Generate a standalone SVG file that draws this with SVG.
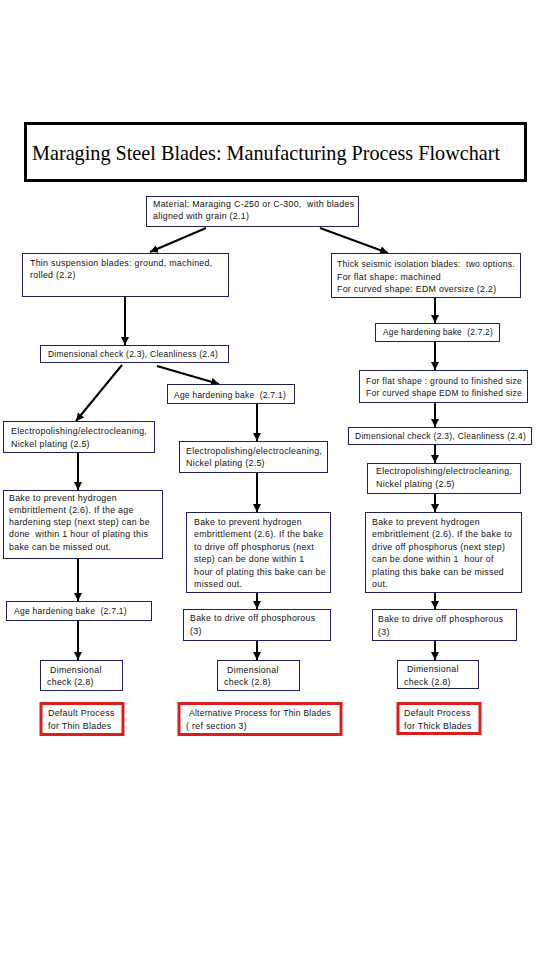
<svg xmlns="http://www.w3.org/2000/svg" width="540" height="960" viewBox="0 0 540 960">
<style>
.b{fill:#fff;stroke:#1f1f5e;stroke-width:1}
.r{fill:#fff;stroke:#d81e1e;stroke-width:3}
.t{font-family:"Liberation Sans",Arial,sans-serif;font-size:8.8px;letter-spacing:0.3px;fill:#111;white-space:pre}
.c line{stroke:#000;stroke-width:2;marker-end:url(#ah)}
</style>
<defs>
<marker id="ah" markerUnits="userSpaceOnUse" markerWidth="9" markerHeight="8" refX="8" refY="4" orient="auto">
<path d="M0,0 L8,4 L0,8 z" fill="#000"/>
</marker>
</defs>
<rect width="540" height="960" fill="#fff"/>
<g id="title">
<rect x="25.5" y="123.5" width="500" height="57" fill="#fff" stroke="#000" stroke-width="3"/>
<text x="32" y="160" font-family="Liberation Serif,Times New Roman,serif" font-size="20.2" fill="#000">Maraging Steel Blades: Manufacturing Process Flowchart</text>
</g>
<g class="c" id="connectors">
<line x1="206" y1="228" x2="150" y2="252"/>
<line x1="320" y1="228" x2="388" y2="253"/>
<line x1="125" y1="297" x2="125" y2="345"/>
<line x1="435" y1="298" x2="435" y2="323"/>
<line x1="435" y1="341" x2="435" y2="370"/>
<line x1="435" y1="403" x2="435" y2="427"/>
<line x1="435" y1="444" x2="435" y2="463"/>
<line x1="435" y1="494" x2="435" y2="512"/>
<line x1="435" y1="593" x2="435" y2="609"/>
<line x1="435" y1="641" x2="435" y2="660"/>
<line x1="122" y1="365" x2="76" y2="421"/>
<line x1="157" y1="366" x2="219" y2="384"/>
<line x1="257" y1="404" x2="257" y2="441"/>
<line x1="78" y1="452" x2="78" y2="490"/>
<line x1="257" y1="472" x2="257" y2="512"/>
<line x1="78" y1="558" x2="78" y2="601"/>
<line x1="257" y1="593" x2="257" y2="609"/>
<line x1="78" y1="620" x2="78" y2="660"/>
<line x1="257" y1="640" x2="257" y2="660"/>
</g>
<g id="material">
<rect class="b" x="146.5" y="196.5" width="212" height="30"/>
<text class="t" x="153" y="207">Material: Maraging C-250 or C-300,  with blades</text>
<text class="t" x="153" y="219">aligned with grain (2.1)</text>
</g>
<g id="thin">
<rect class="b" x="22.5" y="253.5" width="206" height="43"/>
<text class="t" x="30" y="266">Thin suspension blades: ground, machined,</text>
<text class="t" x="30" y="278">rolled (2.2)</text>
</g>
<g id="thick">
<rect class="b" x="331.5" y="253.5" width="189" height="44"/>
<text class="t" x="337" y="267" textLength="178" lengthAdjust="spacingAndGlyphs">Thick seismic isolation blades:  two options.</text>
<text class="t" x="337" y="280">For flat shape: machined</text>
<text class="t" x="337" y="292">For curved shape: EDM oversize (2.2)</text>
</g>
<g id="age272">
<rect class="b" x="375.5" y="323.5" width="124" height="18"/>
<text class="t" x="383" y="335" textLength="110" lengthAdjust="spacingAndGlyphs">Age hardening bake  (2.7.2)</text>
</g>
<g id="finish">
<rect class="b" x="359.5" y="370.5" width="168" height="32"/>
<text class="t" x="366" y="384" textLength="156" lengthAdjust="spacingAndGlyphs">For flat shape : ground to finished size</text>
<text class="t" x="366" y="396" textLength="156" lengthAdjust="spacingAndGlyphs">For curved shape EDM to finished size</text>
</g>
<g id="dimR">
<rect class="b" x="348.5" y="427.5" width="183" height="17"/>
<text class="t" x="355" y="439" textLength="171" lengthAdjust="spacingAndGlyphs">Dimensional check (2.3), Cleanliness (2.4)</text>
</g>
<g id="electroR">
<rect class="b" x="367.5" y="463.5" width="153" height="30"/>
<text class="t" x="376" y="474">Electropolishing/electrocleaning,</text>
<text class="t" x="376" y="487">Nickel plating (2.5)</text>
</g>
<g id="bakeR">
<rect class="b" x="365.5" y="512.5" width="156" height="80"/>
<text class="t" x="372" y="525">Bake to prevent hydrogen</text>
<text class="t" x="372" y="537">embrittlement (2.6). If the bake to</text>
<text class="t" x="372" y="550">drive off phosphorus (next step)</text>
<text class="t" x="372" y="562">can be done within 1  hour of</text>
<text class="t" x="372" y="575">plating this bake can be missed</text>
<text class="t" x="372" y="587">out.</text>
</g>
<g id="phosR">
<rect class="b" x="372.5" y="609.5" width="144" height="31"/>
<text class="t" x="378" y="622">Bake to drive off phosphorous</text>
<text class="t" x="378" y="635">(3)</text>
</g>
<g id="dim28R">
<rect class="b" x="397.5" y="660.5" width="81" height="28"/>
<text class="t" x="407" y="672">Dimensional</text>
<text class="t" x="404" y="685">check (2.8)</text>
</g>
<g id="defThick">
<rect class="r" x="398" y="703.5" width="82" height="30"/>
<text class="t" x="404" y="716">Default Process</text>
<text class="t" x="404" y="729">for Thick Blades</text>
</g>
<g id="dimL">
<rect class="b" x="40.5" y="345.5" width="188" height="17"/>
<text class="t" x="48" y="357" textLength="170" lengthAdjust="spacingAndGlyphs">Dimensional check (2.3), Cleanliness (2.4)</text>
</g>
<g id="electroL">
<rect class="b" x="3.5" y="421.5" width="151" height="31"/>
<text class="t" x="11" y="434">Electropolishing/electrocleaning,</text>
<text class="t" x="11" y="447">Nickel plating (2.5)</text>
</g>
<g id="age271M">
<rect class="b" x="167.5" y="384.5" width="127" height="19"/>
<text class="t" x="174" y="398" textLength="112" lengthAdjust="spacingAndGlyphs">Age hardening bake  (2.7.1)</text>
</g>
<g id="electroM">
<rect class="b" x="179.5" y="441.5" width="148" height="31"/>
<text class="t" x="186" y="454">Electropolishing/electrocleaning,</text>
<text class="t" x="186" y="466">Nickel plating (2.5)</text>
</g>
<g id="bakeL">
<rect class="b" x="3.5" y="490.5" width="159" height="68"/>
<text class="t" x="9" y="501">Bake to prevent hydrogen</text>
<text class="t" x="9" y="513">embrittlement (2.6). If the age</text>
<text class="t" x="9" y="525">hardening step (next step) can be</text>
<text class="t" x="9" y="537">done  within 1 hour of plating this</text>
<text class="t" x="9" y="550">bake can be missed out.</text>
</g>
<g id="bakeM">
<rect class="b" x="186.5" y="512.5" width="144" height="80"/>
<text class="t" x="194" y="525">Bake to prevent hydrogen</text>
<text class="t" x="194" y="537">embrittlement (2.6). If the bake</text>
<text class="t" x="194" y="550">to drive off phosphorus (next</text>
<text class="t" x="194" y="562">step) can be done within 1</text>
<text class="t" x="194" y="575">hour of plating this bake can be</text>
<text class="t" x="194" y="587">missed out.</text>
</g>
<g id="age271L">
<rect class="b" x="6.5" y="601.5" width="145" height="19"/>
<text class="t" x="14" y="614" textLength="113" lengthAdjust="spacingAndGlyphs">Age hardening bake  (2.7.1)</text>
</g>
<g id="phosM">
<rect class="b" x="183.5" y="609.5" width="147" height="31"/>
<text class="t" x="190" y="621">Bake to drive off phosphorous</text>
<text class="t" x="190" y="634">(3)</text>
</g>
<g id="dim28L">
<rect class="b" x="40.5" y="660.5" width="82" height="30"/>
<text class="t" x="50" y="673">Dimensional</text>
<text class="t" x="47" y="685">check (2.8)</text>
</g>
<g id="dim28M">
<rect class="b" x="217.5" y="660.5" width="82" height="30"/>
<text class="t" x="227" y="673">Dimensional</text>
<text class="t" x="224" y="685">check (2.8)</text>
</g>
<g id="defThin">
<rect class="r" x="41" y="703.5" width="82" height="31"/>
<text class="t" x="48" y="716">Default Process</text>
<text class="t" x="48" y="729">for Thin Blades</text>
</g>
<g id="altThin">
<rect class="r" x="179" y="703.5" width="162" height="31"/>
<text class="t" x="189" y="716" textLength="142" lengthAdjust="spacingAndGlyphs">Alternative Process for Thin Blades</text>
<text class="t" x="186" y="729">( ref section 3)</text>
</g>
</svg>
